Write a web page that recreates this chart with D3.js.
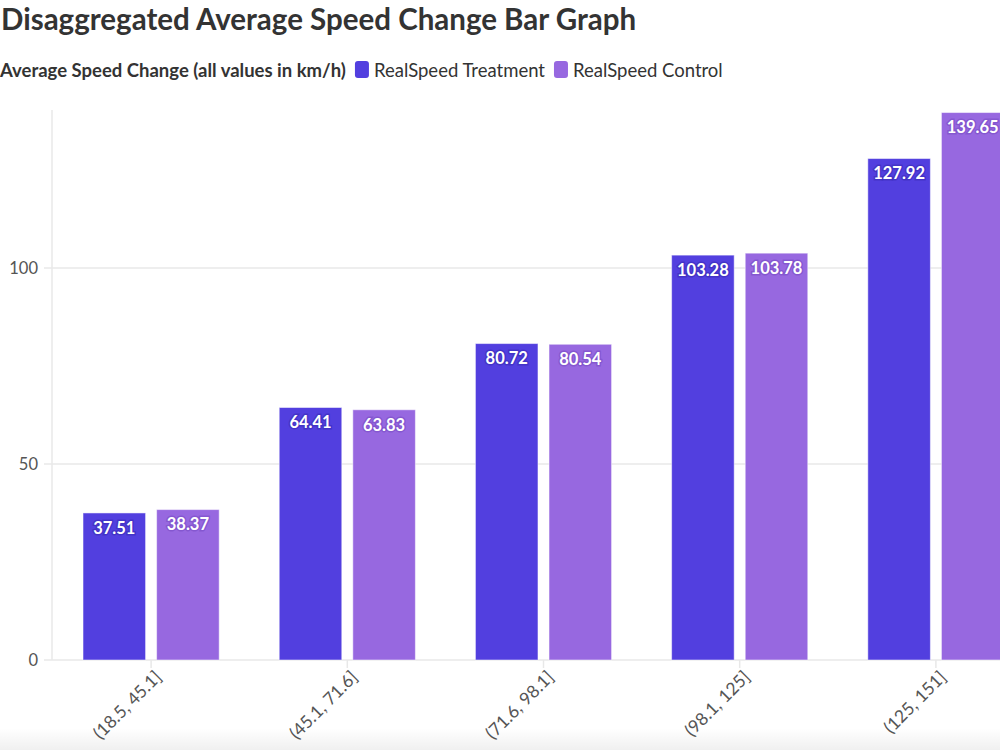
<!DOCTYPE html>
<html>
<head>
<meta charset="utf-8">
<script src="https://cdn.jsdelivr.net/npm/d3@7"></script>
<style>
  body { margin: 0; background: #fff; overflow: hidden; }
  svg { font-family: Lato, "Noto Sans", sans-serif; }
</style>
</head>
<body>
<svg></svg>
<script>
const size = {w: 1000, h: 750};
const svg = d3.select('svg').attr('width', size.w).attr('height', size.h);

// data
const categories = ['(18.5, 45.1]', '(45.1, 71.6]', '(71.6, 98.1]', '(98.1, 125]', '(125, 151]'];
const seriesNames = ['RealSpeed Treatment', 'RealSpeed Control'];
const treatment = [37.51, 64.41, 80.72, 103.28, 127.92];
const control = [38.37, 63.83, 80.54, 103.78, 139.65];
const yTicks = [0, 50, 100];
const colors = ['#523fdf', '#9768e0'];
const labelHalo = ['#3a2bb8', '#7a4cc6'];

const rows = categories.map((c, i) => ({cat: c, values: [treatment[i], control[i]]}));

// title
svg.append('text')
    .attr('x', 1).attr('y', 30)
    .style('font-size', '29.5px').style('font-weight', 700)
    .style('fill', '#333')
    .text('Disaggregated Average Speed Change Bar Graph');

// legend
const legendG = svg.append('g').attr('transform', 'translate(0,77)');
const legTitle = legendG.append('text')
    .style('font-size', '18.5px').style('font-weight', 700).style('fill', '#333')
    .text('Average Speed Change (all values in km/h)');
let lx = legTitle.node().getComputedTextLength() + 9;
seriesNames.forEach((name, i) => {
    legendG.append('rect')
        .attr('x', lx).attr('y', -16).attr('width', 14).attr('height', 17)
        .attr('rx', 3).style('fill', colors[i]);
    const t = legendG.append('text')
        .attr('x', lx + 19)
        .style('font-size', '18.5px').style('fill', '#333')
        .text(name);
    lx += 19 + t.node().getComputedTextLength() + 9;
});

// scales
const x0 = d3.scaleBand()
    .domain(categories)
    .range([53, 1034])
    .paddingInner(0.306)
    .paddingOuter(0.153);

const x1 = d3.scaleBand()
    .domain([0, 1])
    .range([0, x0.bandwidth()])
    .paddingInner(0.15);

const y = d3.scaleLinear()
    .domain([0, 140.3])
    .range([660, 110]);

// grid + y axis
const gridG = svg.append('g').classed('grid', true);
gridG.selectAll('line')
    .data(yTicks)
    .join('line')
    .attr('x1', 44).attr('x2', size.w)
    .attr('y1', d => y(d)).attr('y2', d => y(d))
    .style('stroke', '#e8e8e8').style('stroke-width', 1.5);

svg.append('line')
    .attr('x1', 52).attr('x2', 52)
    .attr('y1', 110).attr('y2', 660)
    .style('stroke', '#e8e8e8').style('stroke-width', 1.5);

svg.append('g')
    .selectAll('text')
    .data(yTicks)
    .join('text')
    .attr('x', 38).attr('y', d => y(d))
    .attr('dy', '0.35em')
    .attr('text-anchor', 'end')
    .style('font-size', '16.5px').style('fill', '#555')
    .text(d => d);

// bars
const groups = svg.append('g').classed('bars', true)
    .selectAll('g')
    .data(rows)
    .join('g')
    .attr('transform', d => `translate(${x0(d.cat)},0)`);

groups.selectAll('rect')
    .data(d => d.values.map((v, i) => ({v, i})))
    .join('rect')
    .attr('x', d => x1(d.i))
    .attr('y', d => y(d.v))
    .attr('width', x1.bandwidth())
    .attr('height', d => y(0) - y(d.v))
    .style('fill', d => colors[d.i])
    .style('stroke', 'rgba(255,255,255,0.5)')
    .style('stroke-width', 1);

groups.selectAll('text')
    .data(d => d.values.map((v, i) => ({v, i})))
    .join('text')
    .attr('x', d => x1(d.i) + x1.bandwidth() / 2)
    .attr('y', d => y(d.v) + 15)
    .attr('dy', '0.35em')
    .attr('text-anchor', 'middle')
    .style('font-size', '16.5px').style('font-weight', 700)
    .style('fill', '#fff')
    .style('stroke', d => labelHalo[d.i])
    .style('stroke-width', 3)
    .style('stroke-opacity', 0.6)
    .style('paint-order', 'stroke')
    .text(d => d.v.toFixed(2));

// x axis ticks + labels
const xTicks = svg.append('g').classed('x-axis', true)
    .selectAll('g')
    .data(categories)
    .join('g')
    .attr('transform', d => `translate(${x0(d) + x0.bandwidth() / 2},660)`);

xTicks.append('line')
    .attr('y1', 0).attr('y2', 8)
    .style('stroke', '#e8e8e8').style('stroke-width', 1.5);

xTicks.append('text')
    .attr('transform', 'translate(7,14) rotate(-45)')
    .attr('text-anchor', 'end')
    .attr('dy', '0.35em')
    .style('font-size', '17.5px').style('fill', '#555')
    .text(d => d);

// faint shade along the bottom edge
const grad = svg.append('defs').append('linearGradient')
    .attr('id', 'shade').attr('x1', 0).attr('x2', 0).attr('y1', 0).attr('y2', 1);
grad.append('stop').attr('offset', 0).attr('stop-color', '#000').attr('stop-opacity', 0);
grad.append('stop').attr('offset', 1).attr('stop-color', '#000').attr('stop-opacity', 0.06);
svg.append('rect')
    .attr('x', 0).attr('y', 728).attr('width', size.w).attr('height', 22)
    .style('fill', 'url(#shade)');
</script>
</body>
</html>
